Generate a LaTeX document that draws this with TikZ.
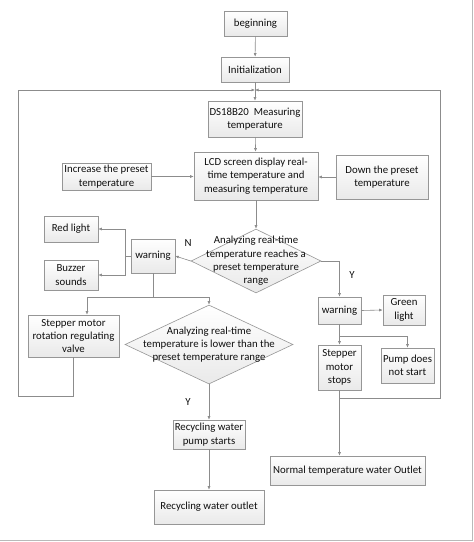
\documentclass[tikz,border=0pt]{standalone}
\usepackage{fontspec}
\setmainfont{Carlito}
\usetikzlibrary{shapes.geometric,arrows.meta,shadows}
\definecolor{ln}{RGB}{140,140,140}
\definecolor{bd}{RGB}{150,150,150}
\definecolor{tx}{RGB}{15,15,15}
\begin{document}
\begin{tikzpicture}[x=1pt,y=-1pt,
  txt/.style={font=\fontsize{10.8}{13.3}\selectfont, text=tx, align=center},
  box/.style={txt, draw=bd, line width=0.6pt, top color=white, bottom color=gray!17,
    inner sep=1pt, drop shadow={shadow xshift=1pt, shadow yshift=-1pt, fill=gray!40, opacity=0.6}},
  dia/.style={diamond, draw=bd, line width=0.6pt, top color=white, bottom color=gray!17, inner sep=0pt},
  arr/.style={draw=ln, line width=0.6pt, -{Latex[length=3.5pt,width=3pt]}},
  ln/.style={draw=ln, line width=0.6pt},
  lab/.style={font=\fontsize{10.8}{13.3}\selectfont, text=tx}]
\useasboundingbox (0,0) rectangle (474,542);
\fill[white] (0,0) rectangle (474,542);
\draw[gray!55, line width=1.5pt] (472.5,0) -- (472.5,540.5) -- (0,540.5);

% nodes
\node[box, minimum width=63pt, minimum height=25pt] (beg) at (255.5,23.5) {beginning};
\node[box, minimum width=68pt, minimum height=25pt] (init) at (255,69.5) {Initialization};
\node[box, minimum width=94pt, minimum height=36pt] (ds) at (255,119) {DS18B20\ \ Measuring\\temperature};
\node[box, minimum width=124pt, minimum height=48pt] (lcd) at (256,176) {LCD screen display real-\\time temperature and\\measuring temperature};
\node[box, minimum width=89pt, minimum height=27pt] (inc) at (106.5,176.5) {Increase the preset\\temperature};
\node[box, minimum width=92pt, minimum height=44pt] (down) at (382,177) {Down the preset\\temperature};
\node[dia, minimum width=130pt, minimum height=64pt] (d1) at (256,261) {};
\node[txt] (d1t) at (d1.center) {Analyzing real-time\\temperature reaches a\\preset temperature\\range};
\node[box, minimum width=44pt, minimum height=34pt] (w1) at (153,256) {warning};
\node[box, minimum width=54pt, minimum height=26pt] (red) at (71,229) {Red light};
\node[box, minimum width=54pt, minimum height=30pt] (buz) at (71,275) {Buzzer\\sounds};
\node[box, minimum width=91pt, minimum height=42pt] (rot) at (73.5,336) {Stepper motor\\rotation regulating\\valve};
\node[dia, minimum width=168pt, minimum height=79pt] (d2) at (209,344.5) {};
\node[txt] (d2t) at (d2.center) {Analyzing real-time\\temperature is lower than the\\preset temperature range};
\node[box, minimum width=72pt, minimum height=29pt] (pump) at (209,434.5) {Recycling water\\pump starts};
\node[box, minimum width=110pt, minimum height=34pt] (rout) at (209,507) {Recycling water outlet};
\node[box, minimum width=43pt, minimum height=27pt] (w2) at (339.5,310.5) {warning};
\node[box, minimum width=42pt, minimum height=30pt] (green) at (404,310) {Green\\light};
\node[box, minimum width=43pt, minimum height=45pt] (stop) at (339.5,367.5) {Stepper\\motor\\stops};
\node[box, minimum width=53pt, minimum height=35pt] (pnot) at (407.5,365.5) {Pump does\\not start};
\node[box, minimum width=155pt, minimum height=29pt] (norm) at (347.5,470.5) {Normal temperature water Outlet};

\node[lab] (nlab) at (188,243) {N};
\node[lab] (ylab1) at (352,275) {Y};
\node[lab] (ylab2) at (188,402) {Y};

% junction coordinates
\coordinate (top) at (255,90);
\coordinate (j1) at (153,297);
\coordinate (j2) at (339.5,336);
\coordinate (jw) at (125,256);
\coordinate (jr) at (339.5,398);

% connectors
\draw[arr] (beg) -- (init);
\draw[arr] (init) -- (ds);
\draw[arr] (ds) -- (lcd);
\draw[arr] (inc.east) -- (inc.east -| lcd.west);
\draw[arr] (down.west) -- (down.west -| lcd.east);
\draw[arr] (lcd) -- (d1);
\draw[arr] (d1.west) -- (w1.east);
\draw[ln] (w1.west) -- (jw);
\draw[arr] (jw) |- (red.east);
\draw[arr] (jw) |- (buz.east);
\draw[ln] (w1.south) -- (j1);
\draw[arr] (j1) -| ([xshift=13.5pt]rot.north);
\draw[arr] (j1) -| (d2.north);
\draw[arr] (d2.south) -- (pump.north);
\draw[arr] (pump.south) -- (rout.north);
\draw[arr] (d1.east) -| (w2.north);
\draw[arr] (w2.east) -- (green.west);
\draw[arr] (w2.south) -- (stop.north);
\draw[arr] (j2) -| (pnot.north);
\draw[arr] (stop.south) -- (stop.south |- norm.north);
% feedback loops
\draw[arr] (rot.south) -- (73.5,396) -- (18,396) -- (18,90) -- (top);
\draw[arr] (jr) -- (440,398) -- (440,90) -- (top);
\end{tikzpicture}
\end{document}
